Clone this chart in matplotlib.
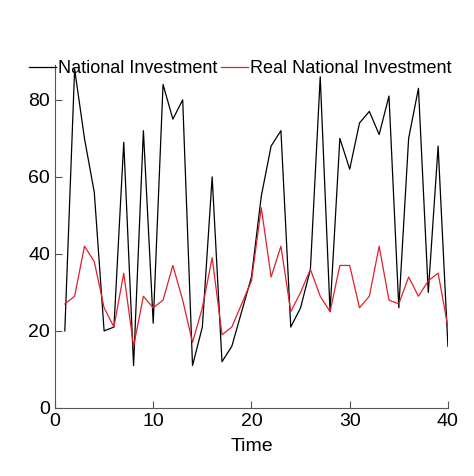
import matplotlib.pyplot as plt

time = list(range(1, 41))
national = [20, 88, 70, 56, 20, 21, 69, 11, 72, 22, 84, 75, 80, 11, 21, 60, 12, 16, 25, 34,
            55, 68, 72, 21, 26, 36, 86, 25, 70, 62, 74, 77, 71, 81, 26, 70, 83, 30, 68, 16]
real = [27, 29, 42, 38, 26, 21, 35, 16, 29, 26, 28, 37, 28, 17, 26, 39, 19, 21, 27, 33,
        52, 34, 42, 25, 30, 36, 29, 25, 37, 37, 26, 29, 42, 28, 27, 34, 29, 33, 35, 21]

plt.rcParams['font.family'] = ['Liberation Sans', 'DejaVu Sans']
fig = plt.figure(figsize=(4.74, 4.76), dpi=100)
ax = fig.add_axes([0.116, 0.143, 0.829, 0.72])
ax.plot(time, national, color='black', lw=0.9, label='National Investment')
ax.plot(time, real, color='#e0202a', lw=0.9, label='Real National Investment')
ax.set_xlim(0, 40)
ax.set_ylim(0, 89)
ax.set_xticks([0, 10, 20, 30, 40])
ax.set_yticks([0, 20, 40, 60, 80])
ax.tick_params(direction='in', labelsize=14, color='#555555', length=5)
for s in ['top', 'right']:
    ax.spines[s].set_visible(False)
for s in ['left', 'bottom']:
    ax.spines[s].set_color('#555555')
ax.set_xlabel('Time', fontsize=14, labelpad=6)
ax.legend(loc='center left', bbox_to_anchor=(-0.085, 0.99), ncol=2, frameon=False,
          fontsize=13, handlelength=1.5, handletextpad=0.1, columnspacing=0.2,
          borderaxespad=0)
fig.savefig('out.png', dpi=100)
